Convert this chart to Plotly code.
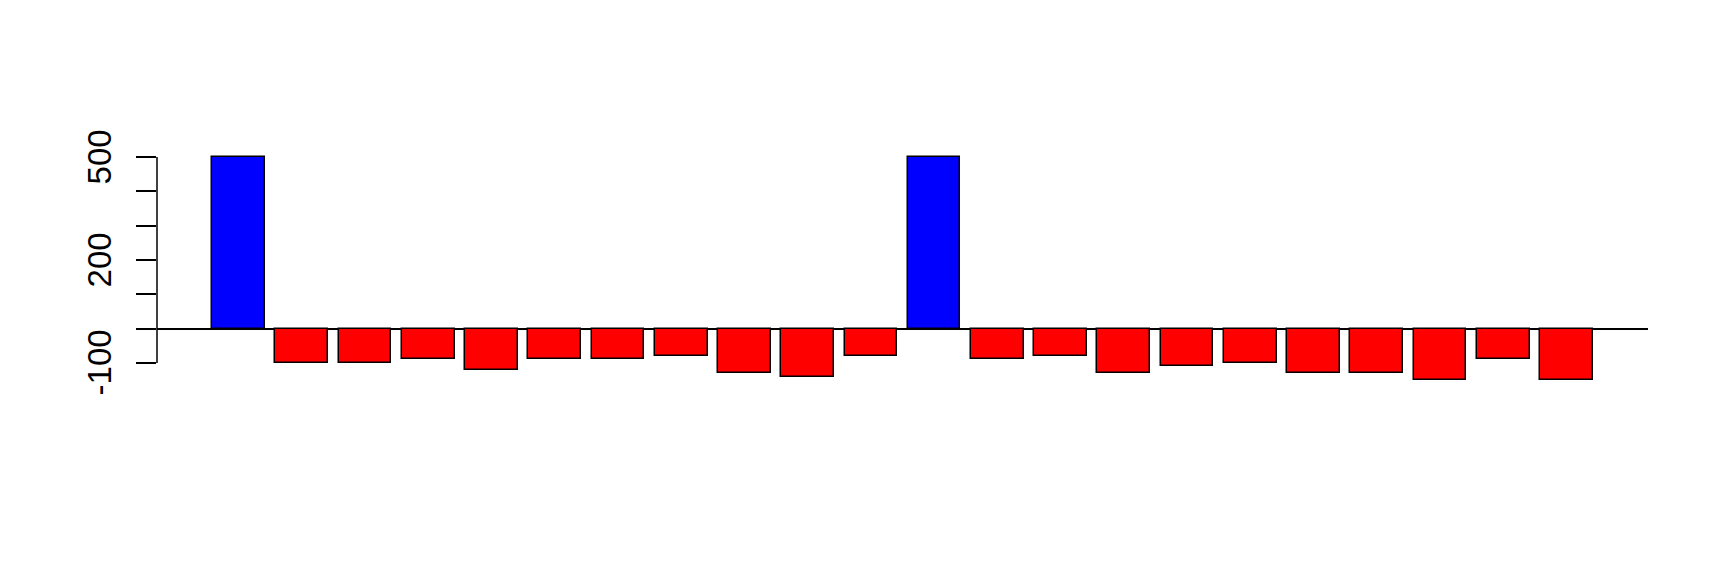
import plotly.graph_objects as go

# bar heights, left to right
values = [500, -100, -100, -90, -120, -90, -90, -80, -130, -140, -80,
          500, -90, -80, -130, -110, -100, -130, -130, -150, -90, -150]
positions = list(range(len(values)))

y_ticks = [-100, 0, 100, 200, 300, 400, 500]
y_ticktext = ["-100", "", "", "200", "", "", "500"]

colors = ["#0000FF" if v > 0 else "#FF0000" for v in values]

fig = go.Figure()
fig.add_trace(go.Bar(
    x=positions, y=values,
    width=1 / 1.2,
    marker=dict(color=colors, line=dict(color="black", width=1.5)),
    showlegend=False,
))

# R style y axis: line only spans the tick range
fig.add_shape(type="line", xref="paper", yref="y",
              x0=0, x1=0, y0=min(y_ticks), y1=max(y_ticks),
              line=dict(color="black", width=1.5))

# tick labels as rotated annotations so they sit centred on their ticks
for val, txt in zip(y_ticks, y_ticktext):
    if txt:
        fig.add_annotation(
            text=txt, xref="paper", yref="y", x=0, y=val,
            xanchor="right", yanchor="middle", xshift=-37,
            textangle=-90, showarrow=False,
            font=dict(family="Liberation Sans", size=33, color="black"),
        )

fig.update_xaxes(visible=False, automargin=False,
                 range=[-1.29, len(values) - 1 + 1.29])
fig.update_yaxes(
    range=[-176, 526], automargin=False,
    tickvals=y_ticks, showticklabels=False,
    ticks="outside", ticklen=20, tickwidth=1.5, tickcolor="black",
    showgrid=False, showline=False,
    zeroline=True, zerolinecolor="black", zerolinewidth=1.5,
)

# page body has an 8px margin, so the figure is 16px smaller than the window
fig.update_layout(
    width=1712, height=560,
    margin=dict(l=149, r=72, t=140, b=179),
    plot_bgcolor="white", paper_bgcolor="white",
    bargap=0,
)

fig.write_html("out.html")
